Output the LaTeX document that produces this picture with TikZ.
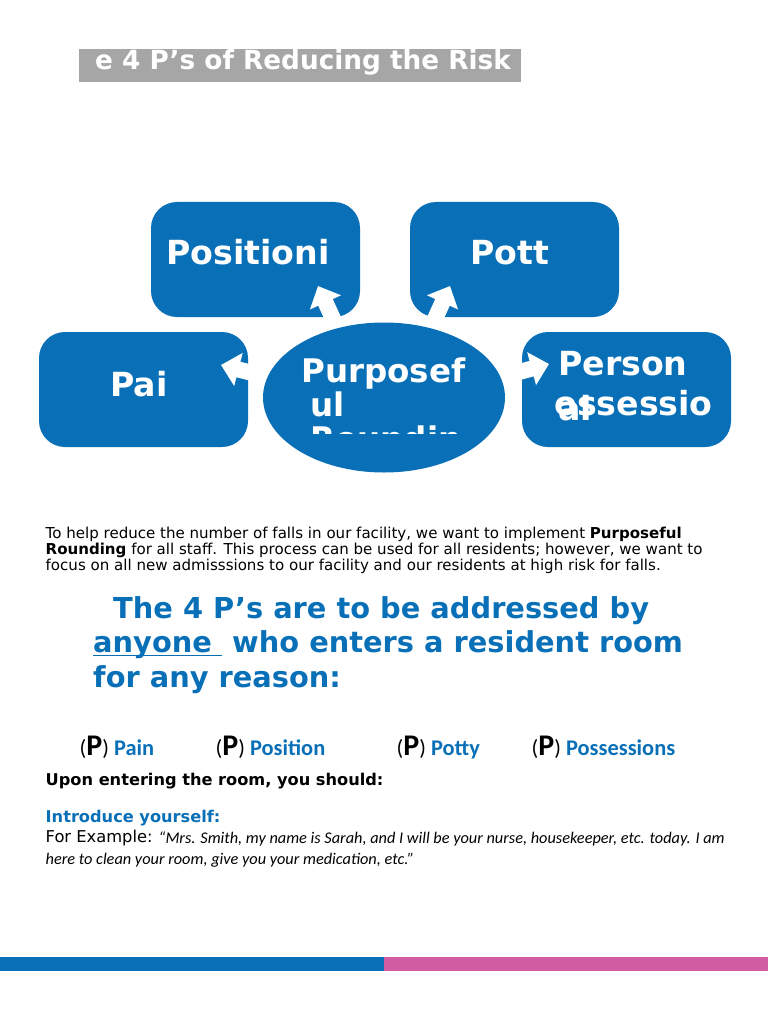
\documentclass[tikz,border=0pt]{standalone}
\usepackage{fontspec}
\setmainfont{DejaVu Sans}
\newfontfamily\carlito{Carlito}
\usepackage{xcolor}
\usetikzlibrary{shapes.geometric, arrows.meta, positioning}
\definecolor{riskblue}{HTML}{0970B8}
\definecolor{riskpink}{HTML}{D25CA2}
\definecolor{riskgray}{HTML}{A6A6A6}
\tikzset{
    pbox/.style={
        rectangle,
        rounded corners=26pt,
        fill=riskblue,
        minimum width=209pt,
        minimum height=115pt,
        inner sep=0pt
    },
    pcenter/.style={
        ellipse,
        fill=riskblue,
        minimum width=242pt,
        minimum height=150pt,
        inner sep=0pt
    },
    pword/.style={
        anchor=base west,
        inner sep=0pt,
        text=white,
        font=\fontsize{33.2}{33}\selectfont\bfseries
    },
    hubword/.style={
        pword,
        font=\fontsize{32.5}{33}\selectfont\bfseries
    },
    pointer/.style={
        draw=white,
        line width=16pt,
        shorten <=4pt,
        -{Triangle[length=18pt,width=33pt]}
    },
    bodyline/.style={
        anchor=base west,
        inner sep=0pt,
        font=\fontsize{15.05}{16}\selectfont
    },
    strongline/.style={
        anchor=base west,
        inner sep=0pt,
        font=\fontsize{16.2}{16}\selectfont\bfseries
    },
    quoteline/.style={
        anchor=base west,
        inner sep=0pt,
        font=\carlito\itshape\fontsize{16.3}{18}\selectfont
    },
    headline/.style={
        anchor=base west,
        inner sep=0pt,
        text=riskblue,
        font=\fontsize{28.85}{29}\selectfont\bfseries
    },
    fourp/.style={
        anchor=base west,
        inner sep=0pt,
        font=\carlito\fontsize{22.4}{22}\selectfont
    }
}
\newcommand{\pmark}[1]{{\fontsize{22}{22}\selectfont(}{\fontsize{30}{30}\selectfont\bfseries P}{\fontsize{22}{22}\selectfont)} \textcolor{riskblue}{\bfseries #1}}
\begin{document}
\begin{tikzpicture}[x=1pt,y=-1pt]
\useasboundingbox (0,0) rectangle (768,1024);

% Title band
\node[fill=riskgray, minimum width=442pt, minimum height=33pt, inner sep=0pt] (band) at (300,65.5) {};
\node[anchor=base west, inner sep=0pt, text=white, font=\fontsize{26.3}{26}\selectfont\bfseries] (title) at (95,70) {e 4 P’s of Reducing the Risk};

% Boxes
\node[pbox] (position) at (255.5,259.5) {};
\node[pbox] (potty) at (514.5,259.5) {};
\node[pbox] (pain) at (143.5,389.5) {};
\node[pbox] (possess) at (626.5,389.5) {};
\node[pcenter] (hub) at (384,397.5) {};

% Arrows
\coordinate (tipposition) at (318,286);
\coordinate (tippotty) at (450,286);
\coordinate (tippain) at (221,365);
\coordinate (tippossess) at (549,364);
\draw[pointer] (hub.124) -- (tipposition);
\draw[pointer] (hub.56) -- (tippotty);
\draw[pointer] (hub.170) -- (tippain);
\draw[pointer] (hub.10) -- (tippossess);

% Box words
\node[pword] (wposition) at (166,264) {Positioni};
\node[pword] (wpotty) at (470,264) {Pott};
\node[pword] (wpain) at (110,396) {Pai};
\node[pword] (wperson) at (558,375) {Person};
\node[pword] (wal) at (558,420) {al};
\node[pword] (wsess) at (554,415) {ossessio};
\node[hubword] (whub1) at (301,382) {Purposef};
\node[hubword] (whub2) at (310,416) {ul};
\begin{scope}
\clip (290,420) rectangle (480,433);
\node[hubword] (whub3) at (310,450) {Roundin};
\end{scope}

% Paragraph
\node[bodyline] (line1) at (45.5,538) {To help reduce the number of falls in our facility, we want to implement \textbf{Purposeful}};
\node[bodyline] (line2) at (45.5,554) {\textbf{Rounding} for all staff. This process can be used for all residents; however, we want to};
\node[bodyline] (line3) at (45.5,570) {focus on all new admisssions to our facility and our residents at high risk for falls.};

% Blue statement
\node[headline] (head1) at (113,618) {The 4 P’s are to be addressed by};
\node[headline] (head2) at (93,652) {anyone};
\node[headline] (head3) at (232,652) {who enters a resident room};
\node[headline] (head4) at (93,687) {for any reason:};
\coordinate (ulstart) at (93,655);
\coordinate (ulend) at (222,655);
\draw[riskblue, line width=1pt] (ulstart) -- (ulend);

% Four P row
\node[fourp] (ppain) at (79.5,755) {\pmark{Pain}};
\node[fourp] (pposition) at (215.5,755) {\pmark{Position}};
\node[fourp] (ppotty) at (396.5,755) {\pmark{Potty}};
\node[fourp] (ppossess) at (531.5,755) {\pmark{Possessions}};

% Lower text
\node[strongline] (upon) at (45.5,785) {Upon entering the room, you should:};
\node[strongline, text=riskblue] (intro) at (45.5,822) {Introduce yourself:};
\node[bodyline, font=\fontsize{16.3}{16}\selectfont] (forex) at (45.5,842) {For Example:};
\node[quoteline] (quote1) at (158.5,843) {“Mrs. Smith, my name is Sarah, and I will be your nurse, housekeeper, etc. today. I am};
\node[quoteline] (quote2) at (45.5,864) {here to clean your room, give you your medication, etc.”};

% Bottom bars
\fill[riskblue] (0,957) rectangle (384,971);
\fill[riskpink] (384,957) rectangle (768,971);

\end{tikzpicture}
\end{document}
